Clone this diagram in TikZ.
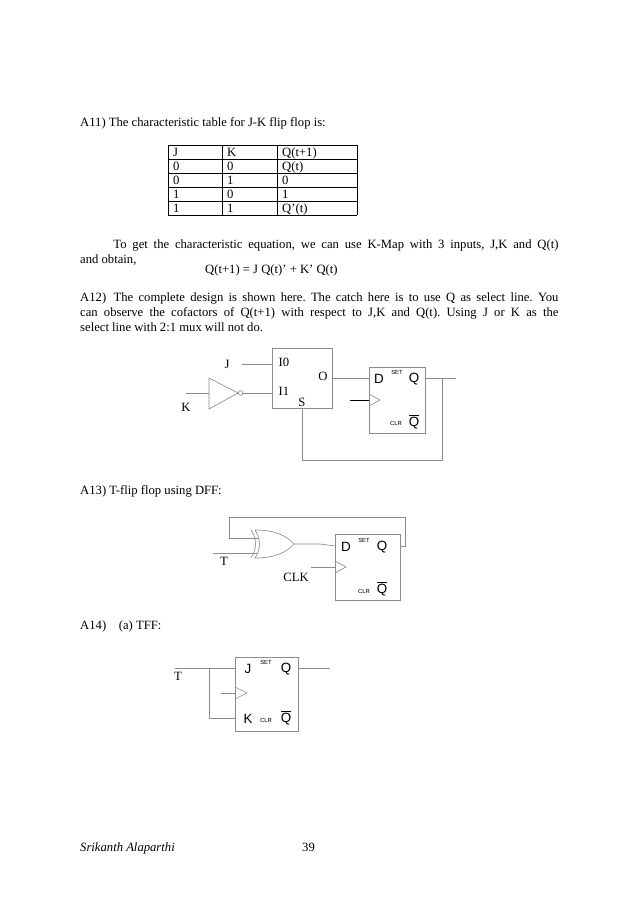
\documentclass[tikz,border=0pt]{standalone}
\usepackage{fontspec}
\setmainfont{Liberation Serif}
\newfontfamily\sansf{Liberation Sans}
\frenchspacing
\begin{document}
\begin{tikzpicture}[x=0.9325pt,y=-0.9325pt,font=\fontsize{11.8}{14}\selectfont,
  wire/.style={draw=black!45,line width=0.6pt},
  box/.style={draw=black!45,line width=0.6pt},
  txt/.style={inner sep=0,anchor=base west},
  gl/.style={inner sep=0,font=\sansf\fontsize{12.5}{14}\selectfont},
  sm/.style={inner sep=0,font=\sansf\fontsize{5.5}{6}\selectfont}]
\useasboundingbox (0,0) rectangle (638,903);
\node[txt] (a11) at (80,126) {A11) The characteristic table for J-K flip flop is:};
% table
\foreach \y in {145,159,173,187,201,215} \draw[line width=0.5pt] (168,\y) -- (357,\y);
\foreach \x in {168,222,277,357} \draw[line width=0.5pt] (\x,145) -- (\x,215);
\foreach \r/\a/\b/\c [count=\i] in {0/J/K/Q(t+1),1/0/0/Q(t),2/0/1/0,3/1/0/1,4/1/1/Q’(t)}{
  \node[txt] (ta\i) at (173,156+14*\r) {\a};
  \node[txt] (tb\i) at (227,156+14*\r) {\b};
  \node[txt] (tc\i) at (282,156+14*\r) {\c};}
\node[txt,text width=446pt,align=justify] (p1) at (80,248) {\frenchspacing\hspace*{31pt}To get the characteristic equation, we can use K-Map with 3 inputs, J,K and Q(t)\linebreak and obtain,};
\node[txt] (eq) at (205,273) {Q(t+1) = J Q(t)’ + K’ Q(t)};
\node[txt,text width=446pt,align=justify] (p2) at (80,301) {\frenchspacing A12)\, The complete design is shown here. The catch here is to use Q as select line. You\linebreak can observe the cofactors of Q(t+1) with respect to J,K and Q(t). Using J or K as the\linebreak select line with 2:1 mux will not do.};
% mux circuit
\draw[box] (272,348) rectangle (332,408);
\node[inner sep=0] (J1) at (227,364) {J};
\node[inner sep=0] (I0) at (284,362) {I0};
\node[inner sep=0] (I1) at (284,391) {I1};
\node[inner sep=0] (O) at (323,376) {O};
\node[inner sep=0] (S) at (302,402) {S};
\node[inner sep=0] (K1) at (186,407) {K};
\draw[wire] (242,364) -- (272,364);
\draw[wire] (186,393) -- (209,393);
\draw[box] (209,378) -- (238,393) -- (209,409) -- cycle;
\draw[box] (240.5,393) circle (2.3);
\draw[wire] (243,393) -- (272,393);
\draw[box] (369,367) rectangle (425,433);
\node[gl] (D1) at (379,379) {D};
\node[sm] (S1) at (397,372) {SET};
\node[gl] (Q1) at (414,379) {Q};
\node[sm] (C1) at (396,423) {CLR};
\node[gl] (Qb1) at (414,422) {$\overline{\mbox{Q}}$};
\draw[box] (369,394) -- (380,400) -- (369,406);
\draw[line width=0.8pt] (350,400) -- (369,400);
\draw[wire] (332,378) -- (369,378);
\draw[wire] (425,378) -- (456,378);
\draw[wire] (442,378) -- (442,460) -- (302,460) -- (302,408);
% T flip flop using DFF
\node[txt] (a13) at (80,494) {A13) T-flip flop using DFF:};
\draw[box] (335,534) rectangle (400,600);
\node[gl] (D2) at (346,547) {D};
\node[sm] (S2) at (364,540) {SET};
\node[gl] (Q2) at (382,547) {Q};
\node[sm] (C2) at (364,591) {CLR};
\node[gl] (Qb2) at (382,589) {$\overline{\mbox{Q}}$};
\draw[box] (335,561) -- (346,567) -- (335,573);
\draw[wire] (311,567) -- (335,567);
\node[inner sep=0] (CLK) at (296,577) {CLK};
\node[inner sep=0] (T2) at (224,561) {T};
\draw[box] (255,530) .. controls (275,530) and (287,536) .. (294,544) .. controls (287,552) and (275,558) .. (255,558) .. controls (261,549) and (261,539) .. (255,530);
\draw[box] (251,530) .. controls (257,539) and (257,549) .. (251,558);
\draw[wire] (294,544) -- (320,544) -- (335,546);
\draw[wire] (400,546) -- (405,546) -- (405,517) -- (229,517) -- (229,538) -- (258,538);
\draw[wire] (213,553) -- (258,553);
% TFF
\node[txt] (a14) at (80,629) {A14)\quad (a) TFF:};
\draw[box] (235,657) rectangle (298,731);
\node[gl] (J3) at (248,669) {J};
\node[sm] (S3) at (266,662) {SET};
\node[gl] (Q3) at (286,669) {Q};
\node[gl] (K3) at (248,719) {K};
\node[sm] (C3) at (266,720) {CLR};
\node[gl] (Qb3) at (286,718) {$\overline{\mbox{Q}}$};
\draw[box] (235,687) -- (247,693) -- (235,699);
\draw[wire] (221,693) -- (235,693);
\draw[wire] (175,668) -- (235,668);
\draw[wire] (209,668) -- (209,718) -- (235,718);
\draw[wire] (298,668) -- (330,668);
\node[inner sep=0] (T3) at (178,676) {T};
% footer
\node[txt] (f1) at (80,851) {\itshape Srikanth Alaparthi};
\node[txt] (f2) at (302,851) {39};
\end{tikzpicture}
\end{document}
